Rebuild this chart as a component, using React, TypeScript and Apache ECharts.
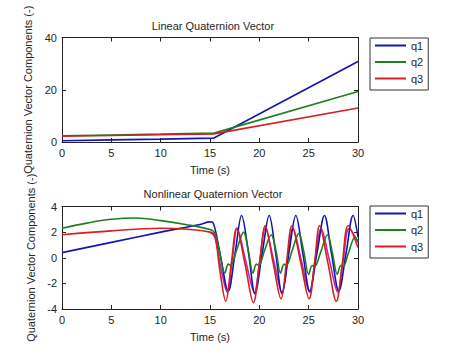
import React, { useEffect, useRef } from "react";
import * as echarts from "echarts";

// ---------- Top plot: Linear Quaternion Vector ----------
const linT1 = [0, 5, 10, 15.4, 30];
const linQ1 = [0.5, 0.8, 1.1, 1.5, 30.8];
const linT2 = [0, 5, 10, 15.4, 30];
const linQ2 = [2.4, 2.7, 3.0, 3.4, 19.3];
const linT3 = [0, 5, 10, 15.4, 30];
const linQ3 = [2.2, 2.5, 2.8, 3.1, 13.0];

// ---------- Bottom plot: Nonlinear Quaternion Vector ----------
const nlT1 = [0, 5, 10, 14, 15, 15.3, 16.0, 16.85, 17.55, 18.2, 18.9, 19.55, 20.3, 21.0, 21.65, 22.3, 23.0, 23.7, 24.4, 25.1, 25.85, 26.6, 27.3, 28.05, 28.8, 29.5, 30];
const nlQ1 = [0.4, 1.2, 2.0, 2.6, 2.8, 2.75, 0.4, -2.6, 0.4, 3.3, 0.4, -2.8, 0.4, 3.3, 0.4, -2.8, 0.4, 3.3, 0.4, -2.6, 0.4, 3.3, 0.4, -2.6, 0.4, 3.3, 1.6];

const nlT2 = [0, 2.5, 5, 7.5, 10, 12.5, 15, 15.5, 16.0, 16.5, 16.85, 17.1, 17.7, 18.4, 18.9, 19.35, 19.7, 19.95, 20.5, 21.2, 21.7, 22.15, 22.5, 22.75, 23.3, 24.0, 24.5, 25.0, 25.35, 25.6, 26.2, 26.9, 27.4, 27.9, 28.25, 28.5, 29.0, 29.7, 30];
const nlQ2 = [2.3, 2.7, 3.0, 3.1, 2.9, 2.6, 2.2, 1.9, 0.3, -1.2, -0.5, -0.6, 0.6, 2.0, 0.5, -1.2, -0.5, -0.6, 0.5, 1.8, 0.5, -1.2, -0.5, -0.6, 0.5, 1.9, 0.5, -1.3, -0.6, -0.7, 0.4, 1.8, 0.4, -1.3, -0.6, -0.7, 0.3, 1.6, 1.3];

const nlT3 = [0, 5, 10, 13, 15, 15.5, 16.0, 16.6, 17.15, 17.7, 18.55, 19.4, 20.0, 20.6, 21.4, 22.2, 22.75, 23.3, 24.2, 25.05, 25.6, 26.1, 26.95, 27.8, 28.4, 29.0, 30];
const nlQ3 = [1.8, 2.1, 2.3, 2.2, 2.0, 1.7, -1.0, -3.4, -0.5, 2.3, -0.5, -3.5, -0.5, 2.5, -0.4, -3.2, -0.4, 2.5, -0.4, -3.2, -0.4, 2.5, -0.4, -3.4, -0.5, 2.5, 0.8];

const nlT4 = [15, 15.5, 16.1, 16.75, 17.25, 17.75, 18.6, 19.5, 20.05, 20.6, 21.45, 22.3, 22.85, 23.4, 24.25, 25.1, 25.65, 26.25, 27.1, 27.95, 28.5, 29.1, 30];
const nlQ4 = [2.0, 1.6, -0.8, -2.7, -0.2, 2.3, -0.2, -2.7, -0.2, 2.3, -0.2, -2.7, -0.2, 2.3, -0.2, -2.7, -0.2, 2.3, -0.2, -2.7, -0.2, 2.3, 1.2];

const xTicks = { min: 0, max: 30, interval: 5 };
const topY = { min: 0, max: 40, interval: 20 };
const botY = { min: -4, max: 4, interval: 2 };

const legendNames = ["q1", "q2", "q3"];
const titles = ["Linear Quaternion Vector", "Nonlinear Quaternion Vector"];
const xName = "Time (s)";
const yName = "Quaternion Vector Components (-)";

const COLORS = { q1: "#1414b4", q2: "#1c801c", q3: "#d42020", q4: "#b82aa8" };
const FONT = "'Liberation Sans', Arial, sans-serif";
const TXT = "#262626";

const zip = (t: number[], v: number[]) => t.map((x, i) => [x, v[i]]);

export default function App() {
  const ref = useRef<HTMLDivElement>(null);
  useEffect(() => {
    if (!ref.current) return;
    const chart = echarts.init(ref.current, null, { renderer: "svg" });
    const grids = [
      { left: 62, top: 37.5, width: 296, height: 104.5 },
      { left: 62, top: 206.5, width: 296, height: 102.5 },
    ];
    const lineAx = { show: true, onZero: false, lineStyle: { color: "#222", width: 1 } };
    const tick = { show: true, inside: true, length: 4, lineStyle: { color: "#222" } };
    const lbl = { color: TXT, fontSize: 11, fontFamily: FONT };
    const xAxes: any[] = [];
    const yAxes: any[] = [];
    [topY, botY].forEach((ySpec, g) => {
      xAxes.push({
        type: "value", gridIndex: g, position: "bottom", ...xTicks,
        axisLine: lineAx, axisTick: tick, splitLine: { show: false },
        axisLabel: { ...lbl, margin: 5 },
        name: xName, nameLocation: "middle", nameGap: 22,
        nameTextStyle: { color: TXT, fontSize: 11, fontFamily: FONT },
      });
      xAxes.push({
        type: "value", gridIndex: g, position: "top", ...xTicks,
        axisLine: lineAx, axisTick: tick, splitLine: { show: false },
        axisLabel: { show: false },
      });
      yAxes.push({
        type: "value", gridIndex: g, position: "left", ...ySpec,
        axisLine: lineAx, axisTick: tick, splitLine: { show: false },
        axisLabel: { ...lbl, margin: 5 },
        name: yName, nameLocation: "middle", nameGap: 18, nameRotate: 90,
        nameTextStyle: { color: TXT, fontSize: 11, fontFamily: FONT },
      });
      yAxes.push({
        type: "value", gridIndex: g, position: "right", ...ySpec,
        axisLine: lineAx, axisTick: tick, splitLine: { show: false },
        axisLabel: { show: false },
      });
    });
    const mk = (name: string, color: string, data: number[][], xi: number, yi: number, z = 2) => ({
      type: "line", name, data, xAxisIndex: xi, yAxisIndex: yi, showSymbol: false,
      symbol: "none", z, lineStyle: { color, width: 1.6 }, itemStyle: { color },
      smooth: false,
    });
    const mkS = (name: string, color: string, data: number[][], xi: number, yi: number, z = 2) => ({
      ...mk(name, color, data, xi, yi, z), smooth: 0.35,
    });
    const legendCommon = {
      orient: "vertical", left: 370, icon: "rect", itemWidth: 31, itemHeight: 2,
      itemGap: 5.5, borderColor: "#333", borderWidth: 1, padding: [2, 5, 6, 5],
      backgroundColor: "#fff", data: legendNames, selectedMode: false,
      textStyle: { color: TXT, fontSize: 11, fontFamily: FONT },
    };
    chart.setOption({
      animation: false,
      backgroundColor: "#fff",
      title: [
        { text: titles[0], left: 208, top: 15, textAlign: "center", textStyle: { color: TXT, fontSize: 11, fontWeight: "normal", fontFamily: FONT } },
        { text: titles[1], left: 208, top: 183, textAlign: "center", textStyle: { color: TXT, fontSize: 11, fontWeight: "normal", fontFamily: FONT } },
      ],
      legend: [
        { ...legendCommon, top: 38 },
        { ...legendCommon, top: 206 },
      ],
      grid: grids,
      xAxis: xAxes,
      yAxis: yAxes,
      series: [
        mk("q1", COLORS.q1, zip(linT1, linQ1), 0, 0),
        mk("q2", COLORS.q2, zip(linT2, linQ2), 0, 0),
        mk("q3", COLORS.q3, zip(linT3, linQ3), 0, 0),
        mkS("q0", COLORS.q4, zip(nlT4, nlQ4), 2, 2, 1),
        mkS("q1", COLORS.q1, zip(nlT1, nlQ1), 2, 2),
        mkS("q2", COLORS.q2, zip(nlT2, nlQ2), 2, 2),
        mkS("q3", COLORS.q3, zip(nlT3, nlQ3), 2, 2),
      ],
    });
    return () => chart.dispose();
  }, []);
  return (
    <div
      ref={ref}
      style={{ position: "fixed", left: 0, top: 0, width: 474, height: 355, background: "#fff" }}
    />
  );
}
